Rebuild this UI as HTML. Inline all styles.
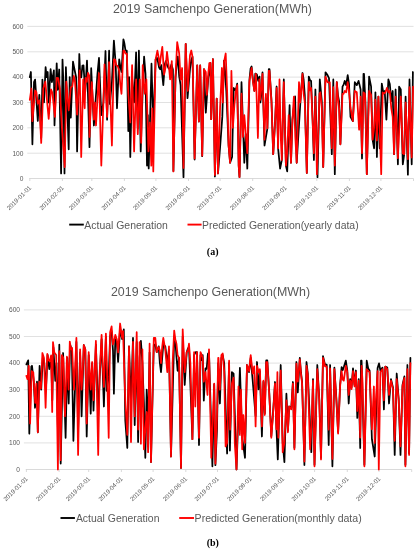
<!DOCTYPE html>
<html><head><meta charset="utf-8"><style>
html,body{margin:0;padding:0;background:#fff;width:418px;height:550px;overflow:hidden}
svg{position:absolute;left:0;top:0}
.g{stroke:#d9d9d9;stroke-width:0.8}
.ax{stroke:#d0d0d0;stroke-width:0.8}
.yl{font-family:"Liberation Sans",sans-serif;font-size:6.6px;fill:#595959;text-anchor:end}
.xl{font-family:"Liberation Sans",sans-serif;font-size:6.2px;fill:#595959;text-anchor:end}
.t{font-family:"Liberation Sans",sans-serif;font-size:12.4px;fill:#595959;text-anchor:middle}
.lg{font-family:"Liberation Sans",sans-serif;font-size:10.45px;fill:#595959}
.cap{font-family:"Liberation Serif",serif;font-size:10px;font-weight:bold;fill:#000;text-anchor:middle}
.lb{fill:none;stroke:#000;stroke-width:1.75;stroke-linejoin:round;stroke-linecap:round}
.lr{fill:none;stroke:#f00;stroke-width:1.75;stroke-linejoin:round;stroke-linecap:round}
</style></head><body>
<svg width="418" height="550" viewBox="0 0 418 550">
<line x1="27.3" y1="153.2" x2="413.5" y2="153.2" class="g"/>
<line x1="27.3" y1="127.8" x2="413.5" y2="127.8" class="g"/>
<line x1="27.3" y1="102.5" x2="413.5" y2="102.5" class="g"/>
<line x1="27.3" y1="77.1" x2="413.5" y2="77.1" class="g"/>
<line x1="27.3" y1="51.8" x2="413.5" y2="51.8" class="g"/>
<line x1="27.3" y1="26.4" x2="413.5" y2="26.4" class="g"/>
<line x1="29.2" y1="178.5" x2="413.5" y2="178.5" class="ax"/>
<line x1="29.8" y1="178.5" x2="29.8" y2="181.0" class="ax"/>
<line x1="62.4" y1="178.5" x2="62.4" y2="181.0" class="ax"/>
<line x1="91.8" y1="178.5" x2="91.8" y2="181.0" class="ax"/>
<line x1="124.4" y1="178.5" x2="124.4" y2="181.0" class="ax"/>
<line x1="155.9" y1="178.5" x2="155.9" y2="181.0" class="ax"/>
<line x1="188.5" y1="178.5" x2="188.5" y2="181.0" class="ax"/>
<line x1="220.1" y1="178.5" x2="220.1" y2="181.0" class="ax"/>
<line x1="252.7" y1="178.5" x2="252.7" y2="181.0" class="ax"/>
<line x1="285.2" y1="178.5" x2="285.2" y2="181.0" class="ax"/>
<line x1="316.8" y1="178.5" x2="316.8" y2="181.0" class="ax"/>
<line x1="349.4" y1="178.5" x2="349.4" y2="181.0" class="ax"/>
<line x1="380.9" y1="178.5" x2="380.9" y2="181.0" class="ax"/>
<line x1="413.5" y1="178.5" x2="413.5" y2="181.0" class="ax"/>
<text x="23.4" y="180.8" class="yl">0</text>
<text x="23.4" y="155.5" class="yl">100</text>
<text x="23.4" y="130.1" class="yl">200</text>
<text x="23.4" y="104.8" class="yl">300</text>
<text x="23.4" y="79.4" class="yl">400</text>
<text x="23.4" y="54.0" class="yl">500</text>
<text x="23.4" y="28.7" class="yl">600</text>
<text transform="translate(31.7,188.2) rotate(-45)" class="xl">2019-01-01</text>
<text transform="translate(64.3,188.2) rotate(-45)" class="xl">2019-02-01</text>
<text transform="translate(93.7,188.2) rotate(-45)" class="xl">2019-03-01</text>
<text transform="translate(126.3,188.2) rotate(-45)" class="xl">2019-04-01</text>
<text transform="translate(157.8,188.2) rotate(-45)" class="xl">2019-05-01</text>
<text transform="translate(190.4,188.2) rotate(-45)" class="xl">2019-06-01</text>
<text transform="translate(222.0,188.2) rotate(-45)" class="xl">2019-07-01</text>
<text transform="translate(254.6,188.2) rotate(-45)" class="xl">2019-08-01</text>
<text transform="translate(287.1,188.2) rotate(-45)" class="xl">2019-09-01</text>
<text transform="translate(318.7,188.2) rotate(-45)" class="xl">2019-10-01</text>
<text transform="translate(351.3,188.2) rotate(-45)" class="xl">2019-11-01</text>
<text transform="translate(382.8,188.2) rotate(-45)" class="xl">2019-12-01</text>
<polyline points="29.8,77.1 30.9,72.0 32.4,144.3 34.0,82.2 35.1,79.6 37.8,121.0 39.3,94.8 41.2,137.9 42.4,79.6 44.0,102.5 45.6,67.2 46.6,77.1 47.7,72.0 48.7,102.5 50.6,69.2 51.9,82.2 53.9,70.3 54.5,125.3 56.7,63.4 57.7,89.8 59.2,69.5 61.1,173.4 62.5,59.6 63.4,82.2 64.5,173.4 65.9,67.2 68.7,149.3 69.7,77.1 70.8,117.7 73.0,61.6 74.5,69.5 76.1,77.1 77.1,151.4 79.3,54.0 80.3,77.1 81.3,77.3 82.4,65.5 83.5,65.4 85.2,92.3 87.0,60.6 89.5,147.1 91.2,68.2 93.9,125.5 96.0,94.8 97.5,73.4 99.0,57.8 101.3,115.1 103.4,102.5 104.4,79.5 105.5,51.0 107.1,119.7 109.1,50.7 109.9,104.0 111.9,82.2 113.9,40.6 115.7,64.4 117.0,108.3 118.1,83.9 119.2,59.4 120.3,66.3 121.5,72.0 123.4,39.3 124.4,43.3 125.5,50.7 126.8,50.7 128.3,131.1 129.1,77.1 130.3,157.0 132.1,77.1 134.1,102.5 136.1,52.3 137.8,128.3 138.9,50.7 140.7,151.4 142.7,89.8 144.1,56.6 145.5,73.8 147.0,165.6 147.8,115.1 148.7,168.4 150.5,102.5 151.5,63.7 153.3,127.8 155.6,59.4 156.8,57.4 158.0,61.9 159.1,67.5 160.2,69.3 161.3,65.2 163.3,85.2 164.8,64.4 165.9,61.1 167.1,65.2 168.5,68.1 169.9,69.5 171.4,64.4 172.9,69.5 173.4,170.9 175.5,77.1 176.7,63.9 177.8,56.6 179.2,76.4 180.6,85.2 183.5,177.2 185.7,43.9 187.5,98.1 188.8,83.7 190.1,68.0 191.3,59.9 192.5,56.8 194.6,159.5 197.2,65.4 198.9,121.5 200.2,65.4 202.2,156.2 204.0,69.2 205.8,112.6 208.3,77.1 209.3,73.0 210.4,62.9 211.2,119.2 212.9,59.1 214.9,176.5 216.7,98.6 218.0,173.4 220.1,147.1 222.3,116.9 224.0,60.6 225.1,70.9 226.3,91.0 228.6,145.5 230.1,162.8 232.1,157.0 233.7,88.0 235.7,90.8 237.2,83.7 238.7,165.6 239.5,177.2 241.5,82.2 244.3,162.8 245.8,134.1 247.3,168.6 249.5,79.4 250.6,68.4 251.6,66.5 253.0,80.6 254.4,91.0 255.3,73.6 256.9,74.6 258.2,80.8 259.5,76.6 260.4,102.5 261.5,92.7 262.5,72.3 264.5,145.5 267.4,128.3 268.8,69.2 269.5,69.2 271.5,100.9 273.2,154.2 275.2,119.7 276.6,86.5 278.1,148.3 280.1,168.6 281.8,160.0 283.8,79.4 285.9,165.6 287.2,171.4 289.6,105.2 291.0,162.8 292.4,119.7 295.1,96.4 296.7,162.8 300.2,105.2 301.3,88.7 302.5,73.0 303.6,79.3 304.8,95.4 306.8,172.9 308.8,76.6 309.9,80.1 311.1,80.9 312.6,119.7 313.9,160.0 315.4,89.5 317.5,177.2 319.8,79.4 321.8,101.2 323.2,167.1 325.5,72.3 327.5,75.1 329.0,78.1 331.8,154.2 333.3,79.4 334.8,174.2 336.8,82.2 337.9,94.8 339.1,101.2 340.4,144.3 342.5,86.7 343.6,84.7 344.7,80.9 346.2,85.2 347.7,75.1 349.0,83.9 350.5,116.9 352.8,121.2 354.8,82.2 356.8,85.2 358.6,80.9 360.6,89.5 362.0,158.5 363.5,73.8 364.0,73.8 365.4,101.2 366.8,174.2 369.1,76.6 371.1,86.7 372.6,139.7 374.1,148.3 375.4,92.3 376.9,157.0 378.4,96.6 379.7,148.3 381.8,83.7 383.3,92.6 384.7,91.0 386.4,119.7 388.4,79.4 389.8,83.9 391.3,101.2 392.7,91.0 394.1,154.2 395.6,89.5 397.9,164.3 399.1,86.7 400.8,89.5 402.8,164.3 404.2,154.2 405.6,96.6 407.9,174.7 409.5,79.4 411.7,164.3 412.9,72.0" class="lb"/>
<polyline points="29.8,99.9 31.4,88.5 32.4,121.2 35.1,90.5 36.4,92.0 37.8,103.7 39.3,100.4 41.2,143.0 43.3,88.5 45.3,81.7 48.7,118.9 51.0,89.3 52.4,92.8 54.9,116.9 56.7,77.9 58.2,78.2 59.8,88.5 61.9,127.8 64.7,167.1 66.3,81.7 68.7,110.3 70.8,87.2 72.3,86.5 73.8,75.8 75.0,81.9 77.1,114.6 79.7,70.3 81.2,157.0 83.2,79.4 84.7,108.3 85.5,77.9 86.8,81.8 88.0,72.8 89.3,75.8 89.5,136.9 91.8,82.2 93.9,119.7 95.0,102.5 96.0,125.5 98.9,73.0 101.3,165.6 103.4,102.5 104.5,64.4 107.1,116.9 109.1,62.1 111.9,145.5 113.9,59.4 115.1,59.6 116.2,65.2 117.7,66.1 119.2,70.8 120.3,84.4 121.5,93.8 123.4,50.7 124.4,50.9 125.5,53.5 126.8,53.5 128.3,93.8 130.3,122.5 132.1,65.2 134.1,151.4 136.1,79.4 137.8,134.1 139.8,79.4 141.2,142.8 142.7,65.2 144.7,93.8 146.4,79.4 148.4,151.4 149.8,122.5 151.3,165.6 152.2,108.3 153.3,171.4 155.6,59.4 157.4,50.7 158.6,57.0 159.7,65.7 161.0,55.4 162.3,46.9 164.1,74.6 165.6,67.0 167.0,51.8 168.1,61.4 169.2,69.5 170.1,79.4 171.8,61.1 173.4,171.4 175.5,77.1 177.2,42.1 179.2,53.5 180.6,79.4 182.1,68.0 183.5,167.9 185.7,43.9 186.7,68.7 187.8,91.0 188.9,70.7 190.0,55.3 191.3,50.5 192.5,56.8 193.8,115.1 194.6,158.5 197.2,65.4 198.9,121.5 200.2,65.4 202.2,155.7 204.0,69.2 205.8,72.0 206.9,94.8 208.3,73.0 209.3,63.0 210.4,62.9 211.2,119.2 212.9,59.1 214.9,175.0 216.7,98.6 218.0,173.4 220.1,107.5 221.9,68.0 222.8,102.5 224.0,62.1 225.7,53.5 227.1,89.8 228.6,145.5 230.1,162.8 231.4,70.8 232.9,127.8 234.4,105.2 235.7,92.3 237.2,85.2 238.7,165.6 239.5,177.2 241.5,93.6 243.0,136.9 244.3,115.1 245.8,134.1 247.3,153.2 249.3,82.2 250.4,74.6 251.6,68.0 253.0,82.2 254.4,91.0 255.9,73.8 257.9,137.9 259.3,79.4 260.2,99.9 261.4,87.5 262.5,73.8 264.5,139.7 265.9,93.8 267.4,128.3 268.8,70.8 269.5,70.8 271.5,102.5 273.2,154.2 275.2,119.7 276.6,88.0 278.1,148.3 279.5,79.4 280.9,140.5 281.8,160.0 283.8,82.2 285.9,165.6 287.2,153.2 288.7,115.1 291.0,162.8 292.4,120.2 293.9,96.6 295.3,136.9 296.7,162.8 299.0,82.2 300.2,102.5 301.3,90.7 302.5,73.8 303.6,93.3 304.8,102.5 306.8,172.9 308.8,82.2 309.9,90.4 311.1,88.0 312.6,119.7 313.9,153.2 315.4,96.6 316.9,174.2 319.5,93.8 320.4,92.3 321.8,108.3 323.2,167.1 325.5,76.6 327.5,82.2 328.7,82.6 329.8,82.2 331.8,148.1 333.3,87.2 334.8,165.6 336.8,82.2 337.9,97.3 339.1,108.3 340.4,144.3 342.5,93.8 343.6,93.8 344.7,91.0 346.2,92.3 347.7,82.2 349.0,91.0 350.5,107.5 352.8,121.2 354.8,91.0 356.8,92.3 359.1,129.8 360.6,96.6 362.0,153.2 363.5,92.3 364.9,93.8 365.4,108.3 366.8,174.2 369.1,91.0 371.1,94.8 372.6,139.7 374.1,127.8 375.4,99.7 376.9,140.5 378.4,96.6 379.7,127.8 381.2,174.2 382.7,92.3 383.5,93.8 385.5,92.3 386.9,87.9 388.4,92.3 389.8,91.0 391.3,108.3 392.7,116.9 394.1,154.2 395.6,96.6 397.9,158.2 400.8,96.6 402.8,153.2 404.2,154.2 405.6,102.5 407.9,159.2 409.5,87.2 411.7,157.5 413.1,86.7" class="lr"/>
<text x="212.4" y="12.7" class="t">2019 Samchenpo Generation(MWh)</text>
<line x1="69.2" y1="224.6" x2="83.8" y2="224.6" stroke="#000" stroke-width="1.9"/>
<text x="84.3" y="228.6" class="lg">Actual Generation</text>
<line x1="187.5" y1="224.6" x2="201.6" y2="224.6" stroke="#f00" stroke-width="1.9"/>
<text x="202" y="228.6" class="lg">Predicted Generation(yearly data)</text>
<text x="212.7" y="255.1" class="cap">(a)</text>
<line x1="23.9" y1="442.9" x2="411.7" y2="442.9" class="g"/>
<line x1="23.9" y1="416.3" x2="411.7" y2="416.3" class="g"/>
<line x1="23.9" y1="389.7" x2="411.7" y2="389.7" class="g"/>
<line x1="23.9" y1="363.1" x2="411.7" y2="363.1" class="g"/>
<line x1="23.9" y1="336.5" x2="411.7" y2="336.5" class="g"/>
<line x1="23.9" y1="309.9" x2="411.7" y2="309.9" class="g"/>
<line x1="25.8" y1="469.5" x2="411.7" y2="469.5" class="ax"/>
<line x1="26.4" y1="469.5" x2="26.4" y2="472.0" class="ax"/>
<line x1="59.1" y1="469.5" x2="59.1" y2="472.0" class="ax"/>
<line x1="88.7" y1="469.5" x2="88.7" y2="472.0" class="ax"/>
<line x1="121.4" y1="469.5" x2="121.4" y2="472.0" class="ax"/>
<line x1="153.1" y1="469.5" x2="153.1" y2="472.0" class="ax"/>
<line x1="185.8" y1="469.5" x2="185.8" y2="472.0" class="ax"/>
<line x1="217.5" y1="469.5" x2="217.5" y2="472.0" class="ax"/>
<line x1="250.2" y1="469.5" x2="250.2" y2="472.0" class="ax"/>
<line x1="282.9" y1="469.5" x2="282.9" y2="472.0" class="ax"/>
<line x1="314.6" y1="469.5" x2="314.6" y2="472.0" class="ax"/>
<line x1="347.3" y1="469.5" x2="347.3" y2="472.0" class="ax"/>
<line x1="379.0" y1="469.5" x2="379.0" y2="472.0" class="ax"/>
<line x1="411.7" y1="469.5" x2="411.7" y2="472.0" class="ax"/>
<text x="20.0" y="471.8" class="yl">0</text>
<text x="20.0" y="445.2" class="yl">100</text>
<text x="20.0" y="418.6" class="yl">200</text>
<text x="20.0" y="392.0" class="yl">300</text>
<text x="20.0" y="365.4" class="yl">400</text>
<text x="20.0" y="338.8" class="yl">500</text>
<text x="20.0" y="312.2" class="yl">600</text>
<text transform="translate(28.3,479.2) rotate(-45)" class="xl">2019-01-01</text>
<text transform="translate(61.0,479.2) rotate(-45)" class="xl">2019-02-01</text>
<text transform="translate(90.6,479.2) rotate(-45)" class="xl">2019-03-01</text>
<text transform="translate(123.3,479.2) rotate(-45)" class="xl">2019-04-01</text>
<text transform="translate(155.0,479.2) rotate(-45)" class="xl">2019-05-01</text>
<text transform="translate(187.7,479.2) rotate(-45)" class="xl">2019-06-01</text>
<text transform="translate(219.4,479.2) rotate(-45)" class="xl">2019-07-01</text>
<text transform="translate(252.1,479.2) rotate(-45)" class="xl">2019-08-01</text>
<text transform="translate(284.8,479.2) rotate(-45)" class="xl">2019-09-01</text>
<text transform="translate(316.5,479.2) rotate(-45)" class="xl">2019-10-01</text>
<text transform="translate(349.2,479.2) rotate(-45)" class="xl">2019-11-01</text>
<text transform="translate(380.9,479.2) rotate(-45)" class="xl">2019-12-01</text>
<polyline points="26.4,364.4 28.2,360.4 29.3,433.6 31.3,366.6 32.0,365.8 33.8,381.7 35.0,407.8 37.0,381.7 37.8,432.3 39.6,365.8 41.2,389.7 42.8,357.8 44.3,363.1 45.9,389.7 47.6,354.9 49.3,369.2 51.2,357.8 52.3,400.3 53.3,347.1 55.3,380.9 56.5,363.1 57.9,429.6 59.3,344.7 60.7,463.6 63.1,353.0 65.6,437.8 67.3,357.8 68.7,403.5 70.1,344.5 71.8,349.8 73.4,440.8 76.4,341.8 78.1,429.6 80.1,352.5 81.6,416.3 83.8,345.0 85.3,349.8 86.7,436.5 88.7,355.1 90.7,413.6 92.2,363.1 93.5,410.7 95.9,344.5 98.2,416.3 99.6,379.3 101.6,339.2 103.9,406.5 105.9,336.5 106.7,390.8 108.7,376.4 110.1,336.5 111.6,331.2 113.0,350.6 113.9,393.7 115.3,339.2 116.8,341.8 118.1,362.0 120.1,328.5 122.1,339.2 123.8,329.3 125.3,420.8 127.3,448.0 129.0,346.3 131.0,403.0 133.0,337.8 134.7,425.1 136.7,341.8 138.1,442.1 139.6,357.8 140.9,340.8 142.4,363.1 143.9,403.0 145.3,457.8 146.7,389.7 148.1,429.6 149.6,352.5 151.0,462.1 153.8,344.5 155.3,344.5 156.7,352.2 158.7,346.3 159.8,362.3 161.0,372.1 162.2,357.8 163.3,344.5 165.3,346.3 167.3,363.1 169.0,349.8 171.0,456.5 174.2,336.5 175.3,340.8 176.5,357.3 177.6,370.8 179.0,357.8 181.0,467.9 182.7,336.5 184.7,384.9 186.7,352.2 187.9,348.5 189.0,347.1 192.4,439.2 194.1,355.1 195.6,352.2 197.0,352.2 199.0,445.0 200.5,355.1 201.6,360.2 202.7,355.1 203.8,400.6 205.5,368.4 206.7,368.8 207.9,353.8 209.0,352.5 212.4,466.3 214.2,384.4 215.4,465.2 217.0,429.3 218.2,363.1 219.9,403.5 221.4,357.8 222.7,355.1 224.2,363.1 227.1,453.5 229.1,363.1 229.9,450.6 231.9,372.1 233.6,373.7 236.5,469.5 239.9,367.9 242.2,437.6 245.0,457.8 247.0,365.0 249.0,372.1 250.7,357.8 252.7,380.7 255.6,416.3 257.0,362.0 258.5,389.4 259.9,371.1 261.9,436.5 263.4,381.7 264.8,413.4 266.2,360.4 267.3,360.4 269.3,393.4 271.3,436.2 273.0,413.4 275.0,382.0 276.4,427.7 277.8,459.4 280.7,365.0 282.7,442.9 284.4,462.1 286.4,393.7 287.9,430.7 289.2,406.5 291.3,407.8 292.9,382.0 294.4,447.7 296.4,362.0 297.8,392.4 299.8,357.8 301.0,372.7 302.1,382.0 304.4,465.0 306.5,362.0 307.8,373.5 311.3,452.2 313.0,379.1 314.5,464.7 317.3,365.0 319.3,399.3 321.0,457.8 323.0,356.2 325.0,364.7 326.7,364.7 328.7,445.0 330.1,365.0 332.4,466.3 334.4,367.6 336.4,399.3 338.1,432.0 340.1,384.9 341.6,367.1 342.7,370.2 343.8,367.1 345.8,360.7 347.3,370.5 348.7,403.5 350.2,379.1 351.5,387.6 353.0,368.4 354.5,384.9 355.9,370.5 357.3,417.9 358.7,379.1 360.2,448.0 361.0,360.7 361.6,360.7 364.4,464.7 366.7,360.7 368.2,368.4 369.6,370.5 371.9,439.2 374.7,456.5 377.6,367.9 379.0,363.4 380.4,370.5 382.5,367.6 383.9,409.4 385.3,366.6 387.3,367.6 389.0,403.5 391.0,379.1 393.0,387.6 394.7,454.9 396.7,373.5 398.7,399.3 400.5,454.9 402.5,384.9 404.4,376.4 405.4,464.7 407.4,365.0 409.1,453.3 410.4,357.8" class="lb"/>
<polyline points="26.4,375.9 27.5,379.1 28.8,365.8 30.1,423.5 31.7,371.1 33.3,372.4 35.2,403.0 36.4,383.6 37.8,432.3 39.3,381.7 40.9,388.6 42.4,353.0 44.0,358.0 45.6,407.8 47.3,353.8 48.6,360.4 49.8,361.0 51.1,355.4 52.2,412.0 53.0,342.1 54.3,352.5 56.2,355.1 57.9,469.5 59.3,351.1 60.7,460.2 61.9,355.1 63.3,357.8 65.0,416.3 66.9,356.7 68.6,389.7 69.8,341.6 70.9,349.4 72.1,347.9 74.0,389.7 75.2,365.0 76.4,337.8 78.1,454.9 80.1,349.3 81.6,389.7 82.7,371.4 83.8,345.0 85.3,349.3 86.7,423.5 88.7,352.2 90.7,389.7 92.2,362.0 93.5,400.3 95.9,340.8 98.2,454.9 99.6,373.7 101.6,334.9 102.7,366.0 103.9,387.0 105.9,333.6 107.2,376.4 108.7,437.8 110.1,332.2 111.6,326.4 113.0,344.5 114.1,340.8 115.3,334.9 116.8,339.2 118.1,352.5 120.1,323.5 122.1,337.8 123.0,331.2 125.3,400.9 127.3,434.9 129.0,346.3 131.0,442.1 133.0,341.8 134.7,416.3 136.7,332.2 138.1,429.6 139.6,342.1 140.9,443.7 142.4,349.3 143.9,449.3 145.3,429.6 146.7,412.0 148.1,452.2 149.6,343.7 151.0,462.1 153.8,337.8 155.3,337.8 156.7,352.2 158.7,347.1 159.8,350.2 161.0,363.1 162.2,346.9 163.3,337.8 165.3,349.8 167.3,372.1 169.0,346.3 171.0,456.5 172.6,363.1 174.2,330.6 175.3,339.2 176.5,344.0 177.6,355.1 179.0,357.8 181.0,467.9 182.7,329.3 184.7,372.1 186.7,352.2 187.9,351.2 189.0,343.7 190.4,363.6 192.4,439.2 194.1,352.2 195.3,406.5 197.0,352.2 199.0,437.8 200.5,352.2 201.6,354.6 202.7,357.8 203.8,381.7 205.5,372.1 207.5,395.0 209.0,349.3 211.3,457.8 214.2,383.6 215.4,463.6 217.0,416.3 218.2,357.8 218.5,357.8 219.9,389.7 221.4,355.1 222.7,353.5 224.2,371.1 225.6,446.4 227.1,442.9 229.1,360.7 230.1,429.6 231.9,383.6 233.6,377.7 234.8,443.7 236.5,469.5 238.5,386.5 239.9,434.9 241.0,389.7 242.2,449.3 243.3,415.0 245.0,442.9 247.0,365.0 249.0,371.1 250.7,355.1 252.7,373.7 254.2,366.3 255.6,426.4 257.0,365.8 258.5,372.1 259.9,369.2 261.9,426.4 263.4,380.7 264.8,415.0 266.2,362.0 267.3,362.0 269.3,395.0 271.3,437.8 273.0,415.0 275.0,383.6 276.4,429.3 277.4,372.1 278.3,437.6 280.7,370.5 282.7,452.2 284.4,442.9 286.4,400.3 287.9,432.3 289.2,406.5 291.3,409.4 292.9,383.6 294.4,449.3 296.4,363.6 297.8,381.7 299.8,359.4 301.0,374.1 302.1,383.6 304.4,461.5 306.5,365.8 307.8,375.1 310.1,449.3 311.3,429.6 313.0,380.7 314.5,466.3 317.3,369.2 319.3,400.9 321.0,459.4 323.0,357.8 325.0,366.3 326.7,366.3 328.7,429.6 330.1,368.4 332.4,458.9 334.4,369.2 336.4,400.9 338.1,433.6 340.1,386.5 341.6,371.1 342.7,379.7 343.8,380.7 345.8,365.8 347.3,372.1 348.7,395.0 350.2,380.7 351.5,389.2 353.0,371.1 354.5,386.5 355.9,372.1 357.3,411.0 358.7,380.7 360.2,437.6 361.6,365.8 362.5,380.7 364.4,466.3 366.7,369.2 368.2,371.1 369.6,372.1 371.9,429.3 373.9,386.5 374.7,442.9 375.9,400.9 377.6,371.1 378.8,469.5 380.4,372.1 382.5,369.2 383.9,400.3 385.3,366.6 387.3,369.2 389.0,395.0 391.0,380.7 393.0,389.2 394.7,440.8 396.7,379.1 398.7,400.9 400.5,446.4 402.5,386.5 404.4,378.0 405.4,466.3 407.4,369.2 409.1,454.9 410.4,363.1" class="lr"/>
<text x="210.5" y="295.7" class="t">2019 Samchenpo Generation(MWh)</text>
<line x1="60.5" y1="518" x2="74.9" y2="518" stroke="#000" stroke-width="1.9"/>
<text x="75.9" y="521.6" class="lg">Actual Generation</text>
<line x1="179.2" y1="518" x2="194" y2="518" stroke="#f00" stroke-width="1.9"/>
<text x="194.6" y="521.6" class="lg" style="font-size:10.55px">Predicted Generation(monthly data)</text>
<text x="212.8" y="546" class="cap">(b)</text>
</svg>
</body></html>
